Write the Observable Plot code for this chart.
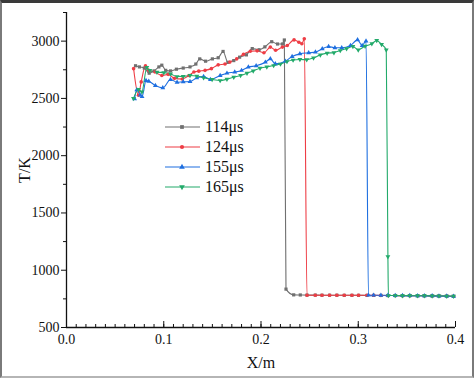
<!DOCTYPE html>
<html><head><meta charset="utf-8">
<script src="https://cdn.jsdelivr.net/npm/d3@7"></script>
<script src="https://cdn.jsdelivr.net/npm/@observablehq/plot@0.6"></script>
<style>
html,body{margin:0;padding:0;background:#fff;}
#frame{position:relative;width:474px;height:378px;overflow:hidden;background:#fff;}
#chart{position:absolute;left:0;top:0;}
#legend{position:absolute;left:0;top:0;pointer-events:none;}
#border{position:absolute;left:0;top:0;width:474px;height:378px;box-sizing:border-box;border-left:2px solid #7a7a7a;border-right:2px solid #7a7a7a;border-top:3px solid #3a3a3a;border-bottom:2px solid #b5b5b5;pointer-events:none;}
svg text{font-family:"Liberation Serif","Times New Roman",Times,"DejaVu Serif",serif !important;}
</style>
</head><body>
<div id="frame"><div id="chart"></div><svg id="legend" width="474" height="378"></svg><div id="border"></div></div>
<script>
// ---- data ----
const seriesNames = ["114μs", "124μs", "155μs", "165μs"];
const seriesColors = ["#707070", "#ee3d45", "#1e6fe0", "#22aa6a"];

const x114 = [0.071,0.075,0.080,0.085,0.090,0.095,0.098,0.102,0.107,0.113,0.120,0.127,0.133,0.137,0.143,0.150,0.156,0.161,0.166,0.172,0.178,0.185,0.191,0.198,0.204,0.211,0.217,0.222,0.224,0.2257,0.2336,0.2404,0.2473,0.2558,0.2627,0.2705,0.278,0.2856,0.2935,0.3003,0.309,0.3158,0.3233,0.3305,0.338,0.3455,0.353,0.361,0.368,0.376,0.383,0.391,0.398];
const t114 = [2785,2775,2765,2720,2740,2775,2790,2745,2740,2755,2765,2775,2800,2845,2825,2845,2855,2910,2815,2830,2860,2880,2935,2925,2950,2995,2975,2975,3010,835,785,784,783,783,782,782,782,781,781,781,780,780,780,779,779,778,778,777,777,776,775,774,772];

const x124 = [0.069,0.074,0.0768,0.0812,0.0846,0.091,0.098,0.1045,0.111,0.119,0.126,0.131,0.136,0.1425,0.149,0.156,0.163,0.168,0.175,0.182,0.189,0.196,0.203,0.2096,0.215,0.222,0.227,0.234,0.239,0.242,0.2445,0.2473,0.2558,0.2627,0.2705,0.278,0.2856,0.2935,0.3003,0.309,0.3158,0.3233,0.3305,0.338,0.3455,0.353,0.361,0.368,0.376,0.383,0.391,0.398];
const t124 = [2760,2528,2644,2784,2745,2730,2700,2710,2675,2670,2700,2730,2738,2745,2760,2793,2800,2817,2845,2885,2912,2915,2898,2948,2920,2948,2962,3011,2990,2977,3020,782,782,782,782,782,782,781,781,781,781,780,780,779,778,778,777,777,776,775,774,773,772];

const x155 = [0.070,0.0723,0.0758,0.0777,0.0818,0.0846,0.0914,0.099,0.107,0.1137,0.120,0.127,0.134,0.141,0.148,0.158,0.165,0.173,0.180,0.187,0.195,0.2045,0.2096,0.2147,0.225,0.232,0.240,0.249,0.256,0.263,0.2695,0.276,0.283,0.292,0.2993,0.304,0.308,0.3105,0.3158,0.3233,0.3305,0.338,0.3455,0.353,0.361,0.368,0.376,0.383,0.391,0.398];
const t155 = [2496,2575,2528,2515,2656,2650,2612,2592,2665,2641,2645,2647,2680,2690,2665,2700,2720,2730,2744,2773,2785,2816,2845,2802,2825,2866,2889,2898,2904,2933,2953,2942,2942,2962,3011,2962,3000,782,782,781,781,779,779,778,777,777,776,775,774,773,772];

const x165 = [0.0689,0.074,0.0775,0.0826,0.0856,0.093,0.100,0.107,0.1137,0.120,0.127,0.134,0.141,0.1497,0.158,0.165,0.172,0.179,0.1856,0.192,0.199,0.206,0.213,0.220,0.2267,0.233,0.240,0.247,0.254,0.261,0.268,0.275,0.2815,0.288,0.2945,0.300,0.307,0.314,0.319,0.324,0.3288,0.3305,0.331,0.338,0.3455,0.353,0.361,0.368,0.376,0.383,0.391,0.398];
const t165 = [2499,2578,2557,2770,2744,2729,2725,2714,2691,2692,2700,2695,2680,2665,2656,2668,2685,2700,2720,2740,2764,2775,2787,2800,2822,2835,2840,2838,2854,2880,2895,2900,2918,2935,2953,2924,2956,2977,3006,2971,2924,1118,779,779,778,778,777,777,776,775,774,773,771];

const xMajor = [0, 0.1, 0.2, 0.3, 0.4];
const xMinor = d3.range(0, 41).map(i => i / 100);
const yMajor = [500, 1000, 1500, 2000, 2500, 3000];
const yMinor = [750, 1250, 1750, 2250, 2750, 3250];

// custom downward triangle symbol
const triangleDown = {
  draw(context, size) {
    const y = -Math.sqrt(size / (Math.sqrt(3) * 3));
    context.moveTo(0, -y * 2);
    context.lineTo(-Math.sqrt(3) * y, y);
    context.lineTo(Math.sqrt(3) * y, y);
    context.closePath();
  }
};
const seriesSymbols = [d3.symbolSquare, d3.symbolCircle, d3.symbolTriangle, triangleDown];

// ---- build table ----
const xsAll = [x114, x124, x155, x165];
const tsAll = [t114, t124, t155, t165];
const rows = [];
xsAll.forEach((xs, s) => xs.forEach((x, i) => rows.push({x, T: tsAll[s][i], series: seriesNames[s]})));

const font = "'Liberation Serif', 'Times New Roman', Times, 'DejaVu Serif', serif";

const chart = Plot.plot({
  width: 474, height: 378,
  marginLeft: 66, marginRight: 19, marginTop: 12, marginBottom: 51,
  style: {fontFamily: font, fontSize: "14px", color: "#111", background: "transparent"},
  x: {domain: [0, 0.4]},
  y: {domain: [500, 3250]},
  color: {domain: seriesNames, range: seriesColors},
  symbol: {domain: seriesNames, range: seriesSymbols},
  marks: [
    Plot.axisY({ticks: yMajor, tickSize: 5, tickPadding: 2, tickFormat: d => String(d), label: "T/K", labelAnchor: "center", labelOffset: 48, labelArrow: "none", stroke: "#111"}),
    Plot.axisY({ticks: yMinor, tickSize: 3, text: null, label: null, stroke: "#111"}),
    Plot.axisX({ticks: xMajor, tickSize: 0, tickPadding: 7, tickFormat: d => d.toFixed(1), label: "X/m", labelAnchor: "center", labelOffset: 40, labelArrow: "none"}),
    Plot.axisX({ticks: xMajor, tickSize: -6, text: null, label: null, stroke: "#111"}),
    Plot.axisX({ticks: xMinor, tickSize: -3, text: null, label: null, stroke: "#111"}),
    Plot.ruleX([0], {stroke: "#111", strokeWidth: 1.3}),
    Plot.ruleY([500], {stroke: "#111", strokeWidth: 1.3}),
    ...seriesNames.map(name => Plot.line(rows.filter(r => r.series === name), {x: "x", y: "T", stroke: "series", strokeWidth: 1.1, curve: "monotone-x"})),
    ...seriesNames.map(name => Plot.dot(rows.filter(r => r.series === name), {x: "x", y: "T", fill: "series", symbol: "series", r: 1.8, stroke: null}))
  ]
});
document.getElementById("chart").appendChild(chart);
d3.select(chart).selectAll('[aria-label="y-axis label"] text, [aria-label="x-axis label"] text').attr("font-size", 16);

// ---- legend ----
const lg = d3.select("#legend");
seriesNames.forEach((name, i) => {
  const y = 127 + i * 20;
  lg.append("line").attr("x1", 165).attr("x2", 200).attr("y1", y).attr("y2", y).attr("stroke", seriesColors[i]).attr("stroke-width", 1.2);
  lg.append("path").attr("d", d3.symbol(seriesSymbols[i], 14)()).attr("transform", `translate(182,${y})`).attr("fill", seriesColors[i]);
  lg.append("text").attr("x", 205).attr("y", y + 5).attr("font-size", 16).attr("fill", "#111").text(name);
});
</script>
</body></html>
